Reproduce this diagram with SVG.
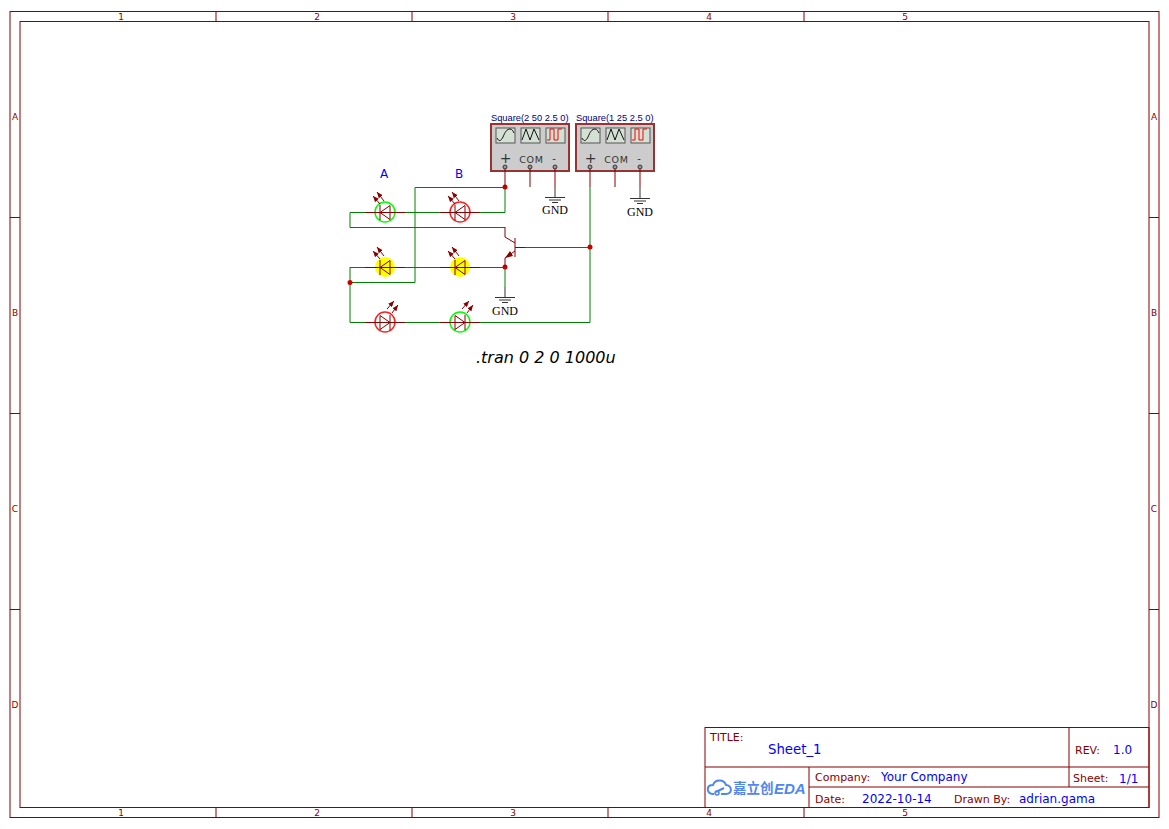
<svg xmlns="http://www.w3.org/2000/svg" xmlns:xlink="http://www.w3.org/1999/xlink" width="1169" height="829" viewBox="0 0 1169 829">
<style>
text{font-family:"DejaVu Sans",sans-serif}
.f{fill:none;stroke:#880000;stroke-width:1}
.t{fill:#880000;font-size:9px;text-anchor:middle}
.l{fill:#880000;font-size:11px}
.v{fill:#0000ff;font-size:12px}
.w{fill:none;stroke:#008000;stroke-width:1}
.p{fill:none;stroke:#880000;stroke-width:1}
.g{fill:none;stroke:#333;stroke-width:1}
.gt{font-family:"Liberation Serif",serif;font-size:12px;fill:#000;text-anchor:middle}
.j{fill:#cc0000}
.sb{fill:#ccc;stroke:#993333;stroke-width:2}
.ic{fill:#d5e0d5;stroke:#555;stroke-width:1}
.sl{font-family:"Liberation Sans",sans-serif;font-size:9.3px;fill:#000080}
.st{font-size:9.5px;fill:#333;text-anchor:middle}
.pc{fill:#999;stroke:#333;stroke-width:1}
.d{fill:none;stroke:#880000;stroke-width:1}
.ar{stroke:#880000;stroke-width:1;fill:none}
.ring{fill:none;stroke-width:1.5}
</style>
<defs>
<marker id="ah" markerWidth="6" markerHeight="5" refX="6" refY="2.5" orient="auto"><path d="M0 0L6 2.5L0 5Z" fill="#880000"/></marker>
<g id="ledL">
<path class="p" d="M-20 0H20"/>
<path class="d" d="M-5 -7.5V7.5M-5 0L5 -7V7Z"/>
<path class="ar" marker-end="url(#ah)" d="M-1 -11.5L-8 -20.5"/>
<path class="ar" marker-end="url(#ah)" d="M-5 -8.5L-12 -16.5"/>
</g>
<g id="ledR">
<path class="p" d="M-20 0H20"/>
<path class="d" d="M5 -7.5V7.5M-5 -7L5 0L-5 7Z"/>
<path class="ar" marker-end="url(#ah)" d="M2 -13.5L9 -21.5"/>
<path class="ar" marker-end="url(#ah)" d="M7 -9.5L13 -17.5"/>
</g>
<g id="gnd">
<path class="g" d="M-10 0H10M-6 2.5H6M-3 5H3"/>
</g>
</defs>

<g id="frame">
<rect class="f" x="10" y="11.5" width="1149" height="806"/>
<rect class="f" x="20" y="21.5" width="1129" height="786"/>
<path class="f" d="M216 11.5V21.5M412 11.5V21.5M608 11.5V21.5M804 11.5V21.5M216 807.5V817.5M412 807.5V817.5M608 807.5V817.5M804 807.5V817.5M10 217.5H20M10 413.5H20M10 609.5H20M1149 217.5H1159M1149 413.5H1159M1149 609.5H1159"/>
<text class="t" x="121" y="20">1</text><text class="t" x="317" y="20">2</text><text class="t" x="513" y="20">3</text><text class="t" x="709" y="20">4</text><text class="t" x="905" y="20">5</text>
<text class="t" x="121" y="816">1</text><text class="t" x="317" y="816">2</text><text class="t" x="513" y="816">3</text><text class="t" x="709" y="816">4</text><text class="t" x="905" y="816">5</text>
<text class="t" x="15" y="120">A</text><text class="t" x="15" y="316">B</text><text class="t" x="15" y="512">C</text><text class="t" x="15" y="708">D</text>
<text class="t" x="1154" y="120">A</text><text class="t" x="1154" y="316">B</text><text class="t" x="1154" y="512">C</text><text class="t" x="1154" y="708">D</text>
</g>

<g id="title-block">
<rect class="f" x="705" y="727.5" width="444" height="80"/>
<path class="f" d="M705 767H1149M809 787H1149M809 767V807.5M1069 727.5V787"/>
<text class="l" x="710" y="740.5">TITLE:</text>
<text class="v" x="768" y="753.5" style="font-size:13.3px">Sheet_1</text>
<text class="l" x="1075" y="754">REV:</text>
<text class="v" x="1113" y="754">1.0</text>
<text class="l" x="815" y="781">Company:</text>
<text class="v" x="881" y="781">Your Company</text>
<text class="l" x="1073" y="782">Sheet:</text>
<text class="v" x="1119" y="783">1/1</text>
<text class="l" x="815" y="803">Date:</text>
<text class="v" x="862" y="803">2022-10-14</text>
<text class="l" x="954" y="803">Drawn By:</text>
<text class="v" x="1019" y="803">adrian.gama</text>
<g id="logo">
<path fill="none" stroke="#4f86f0" stroke-width="2" d="M714 794H713C706 793 706 785 713 785C715 779 724 779 726 785C732 785 733 794 726 794H721M716 792L724 788"/>
<circle cx="717" cy="793" r="2" fill="none" stroke="#4f86f0" stroke-width="1.5"/>
<text x="733" y="793" style="font-family:'Noto Sans CJK SC',sans-serif;font-size:13.5px;font-weight:700" fill="#4f86f0">嘉立创</text>
<text x="774" y="794" style="font-family:'Liberation Sans',sans-serif;font-size:15px;font-style:italic;font-weight:bold" fill="#4f86f0">EDA</text>
</g>
</g>

<g id="connectors">
<path class="w" d="M505 187.5H415V282.5H350M505 187V212.5H480M440 212.5H405M365 212.5H350V227.5H505M350 267.5H365M405 267.5H440M480 267.5H505M350 267V322.5H365M405 322.5H440M480 322.5H590V187M525 247.5H590M505 267V287"/>
<circle class="j" cx="505" cy="187" r="2.5"/>
<circle class="j" cx="590" cy="247" r="2.5"/>
<circle class="j" cx="505" cy="267" r="2.5"/>
<circle class="j" cx="350" cy="282.5" r="2.5"/>
</g>

<g id="LED1"><circle class="ring" cx="385" cy="212" r="10" stroke="#00ff00"/><use xlink:href="#ledL" x="385" y="212.5"/></g>
<g id="LED2"><circle class="ring" cx="460" cy="212" r="10" stroke="#ff2020"/><use xlink:href="#ledL" x="460" y="212.5"/></g>
<g id="LED3"><circle cx="385" cy="267" r="10" fill="#ffff00"/><use xlink:href="#ledL" x="385" y="267.5"/></g>
<g id="LED4"><circle cx="460" cy="267" r="10" fill="#ffff00"/><use xlink:href="#ledL" x="460" y="267.5"/></g>
<g id="LED5"><circle class="ring" cx="385" cy="322" r="10" stroke="#ff2020"/><use xlink:href="#ledR" x="385" y="322.5"/></g>
<g id="LED6"><circle class="ring" cx="460" cy="322" r="10" stroke="#00ff00"/><use xlink:href="#ledR" x="460" y="322.5"/></g>

<g id="label-A"><text class="v" x="384" y="178" text-anchor="middle">A</text></g>
<g id="label-B"><text class="v" x="459" y="178" text-anchor="middle">B</text></g>

<g id="Q1">
<path class="p" d="M505 227V237L515 243M515 251L505 258V267M515 247.5H525M515 238V257"/>
<path fill="#880000" d="M505 258L510 251L513 256Z"/>
</g>

<g id="GND1"><path class="g" d="M505 287V297"/><use xlink:href="#gnd" x="505" y="297.5"/><text class="gt" x="505" y="315">GND</text></g>

<g id="V1">
<text class="sl" x="491" y="120.5">Square(2 50 2.5 0)</text>
<rect class="sb" x="491" y="124" width="78" height="47"/>
<rect class="ic" x="496" y="128" width="19" height="15"/><path fill="none" stroke="#111" d="M497 138C499 142 501 141 503 137C505 132 507 129 510 129C512 129 513 131 514 133"/>
<rect class="ic" x="521" y="128" width="19" height="15"/><path fill="none" stroke="#111" d="M522 140L526 129L530 140L534 129L539 140"/>
<rect class="ic" x="546" y="128" width="19" height="15"/><path fill="none" stroke="#ff0000" d="M547 140H550V129H554V140H558V129H562"/>
<text class="st" x="505.5" y="163" style="font-size:14px">+</text>
<text class="st" x="531.5" y="162.5" letter-spacing="0.8">COM</text>
<text class="st" x="554" y="162" style="font-size:10px">-</text>
<path class="p" d="M505 167V187M530 167V187M555 167V187"/>
<circle class="pc" cx="505" cy="167" r="2"/><circle class="pc" cx="530" cy="167" r="2"/><circle class="pc" cx="555" cy="167" r="2"/>
</g>
<g id="GND2"><path class="g" d="M555 187V197"/><use xlink:href="#gnd" x="555" y="197.5"/><text class="gt" x="555" y="214">GND</text></g>

<g id="V2">
<text class="sl" x="576" y="120.5">Square(1 25 2.5 0)</text>
<rect class="sb" x="576" y="124" width="78" height="47"/>
<rect class="ic" x="581" y="128" width="19" height="15"/><path fill="none" stroke="#111" d="M582 138C584 142 586 141 588 137C590 132 592 129 595 129C597 129 598 131 599 133"/>
<rect class="ic" x="606" y="128" width="19" height="15"/><path fill="none" stroke="#111" d="M607 140L611 129L615 140L619 129L624 140"/>
<rect class="ic" x="631" y="128" width="19" height="15"/><path fill="none" stroke="#ff0000" d="M632 140H635V129H639V140H643V129H647"/>
<text class="st" x="590.5" y="163" style="font-size:14px">+</text>
<text class="st" x="616.5" y="162.5" letter-spacing="0.8">COM</text>
<text class="st" x="639" y="162" style="font-size:10px">-</text>
<path class="p" d="M590 167V187M615 167V187M640 167V187"/>
<circle class="pc" cx="590" cy="167" r="2"/><circle class="pc" cx="615" cy="167" r="2"/><circle class="pc" cx="640" cy="167" r="2"/>
</g>
<g id="GND3"><path class="g" d="M640 187V198"/><use xlink:href="#gnd" x="640" y="198.5"/><text class="gt" x="640" y="216">GND</text></g>

<g id="directive"><text x="476" y="362.5" style="font-size:16px;font-style:italic" fill="#000">.tran 0 2 0 1000u</text></g>
</svg>
